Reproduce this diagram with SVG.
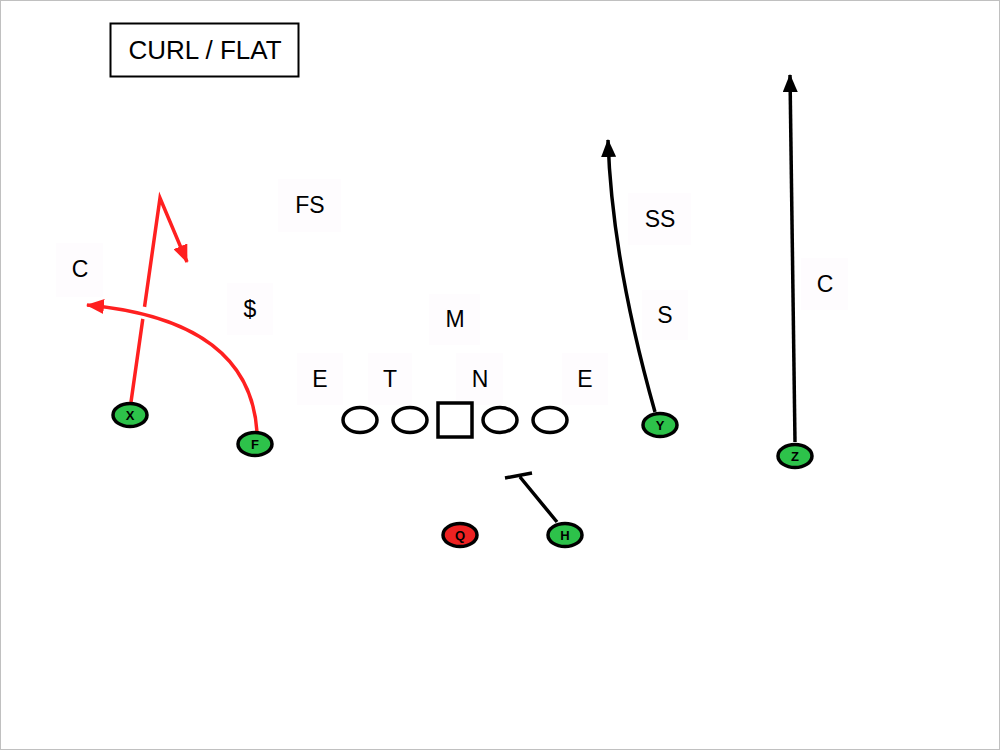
<svg xmlns="http://www.w3.org/2000/svg" width="1000" height="750" viewBox="0 0 1000 750">
<defs>
<marker id="ah-red" markerWidth="18" markerHeight="15" refX="17" refY="7.5" orient="auto" markerUnits="userSpaceOnUse"><path d="M0,0 L18,7.5 L0,15 z" fill="#ff2020"/></marker>
<marker id="ah-blk" markerWidth="18" markerHeight="15" refX="17" refY="7.5" orient="auto" markerUnits="userSpaceOnUse"><path d="M0,0 L18,7.5 L0,15 z" fill="#000"/></marker>
</defs>
<style>
.lbl{font-family:"Liberation Sans",Arial,sans-serif;font-size:23px;fill:#000;text-anchor:middle;dominant-baseline:central}
.lblbg{fill:#fefcfe}
.pl{stroke:#000;stroke-width:3.5;fill:#2dc24a}
.pt{font-family:"Liberation Sans",Arial,sans-serif;font-size:13px;font-weight:bold;fill:#000;text-anchor:middle;dominant-baseline:central}
.ol{fill:#fff;stroke:#000;stroke-width:3.5}
.red{fill:none;stroke:#ff2020;stroke-width:3.5}
.blk{fill:none;stroke:#000;stroke-width:3.5}
</style>
<rect x="0.5" y="0.5" width="999" height="749" fill="#fff" stroke="#c0c0c0" stroke-width="1"/>
<g id="title">
<rect x="110.5" y="23.5" width="188" height="53" fill="#fff" stroke="#000" stroke-width="2"/>
<text x="205" y="50" class="lbl" style="font-size:26px">CURL / FLAT</text>
</g>
<g id="defense">
<g id="d-c-left"><rect class="lblbg" x="56" y="243" width="47" height="54"/><text class="lbl" x="80" y="269">C</text></g>
<g id="d-fs"><rect class="lblbg" x="278" y="179" width="63" height="53"/><text class="lbl" x="310" y="205">FS</text></g>
<g id="d-dollar"><rect class="lblbg" x="227" y="283" width="46" height="52"/><text class="lbl" x="250" y="309">$</text></g>
<g id="d-m"><rect class="lblbg" x="429" y="294" width="51" height="51"/><text class="lbl" x="455" y="319">M</text></g>
<g id="d-e-left"><rect class="lblbg" x="297" y="353" width="46" height="52"/><text class="lbl" x="320" y="379">E</text></g>
<g id="d-t"><rect class="lblbg" x="368" y="353" width="44" height="52"/><text class="lbl" x="390" y="379">T</text></g>
<g id="d-n"><rect class="lblbg" x="456" y="353" width="47" height="52"/><text class="lbl" x="480" y="379">N</text></g>
<g id="d-e-right"><rect class="lblbg" x="562" y="353" width="46" height="52"/><text class="lbl" x="585" y="379">E</text></g>
<g id="d-ss"><rect class="lblbg" x="628" y="193" width="63" height="52"/><text class="lbl" x="660" y="219">SS</text></g>
<g id="d-s"><rect class="lblbg" x="642" y="290" width="46" height="50"/><text class="lbl" x="665" y="315">S</text></g>
<g id="d-c-right"><rect class="lblbg" x="801" y="258" width="47" height="52"/><text class="lbl" x="825" y="284">C</text></g>
</g>
<g id="connectors">
<path id="route-x" class="red" d="M131,402 L160,198 L187,262" marker-end="url(#ah-red)"/>
<path id="route-f-halo" d="M257,432 Q250,320 100,306" fill="none" stroke="#fff" stroke-width="12"/>
<path id="route-f" class="red" d="M257,432 Q250,320 87,305" marker-end="url(#ah-red)"/>
<path id="route-y" class="blk" d="M655,412 Q612,260 608,140" marker-end="url(#ah-blk)"/>
<path id="route-z" class="blk" d="M795,442 L790,75" marker-end="url(#ah-blk)"/>
<path id="block-h" class="blk" d="M557,522 L520,477 M505,478 L532,473"/>
</g>
<g id="line">
<ellipse id="ol-1" class="ol" cx="360" cy="420" rx="17" ry="12.5"/>
<ellipse id="ol-2" class="ol" cx="410" cy="420" rx="17" ry="12.5"/>
<rect id="center" class="ol" x="438" y="403" width="34" height="34"/>
<ellipse id="ol-3" class="ol" cx="500" cy="420" rx="17" ry="12.5"/>
<ellipse id="ol-4" class="ol" cx="550" cy="420" rx="17" ry="12.5"/>
</g>
<g id="p-x"><ellipse class="pl" cx="130" cy="415" rx="17" ry="11.5"/><text class="pt" x="130" y="415">X</text></g>
<g id="p-f"><ellipse class="pl" cx="255" cy="444" rx="17" ry="11.5"/><text class="pt" x="255" y="444">F</text></g>
<g id="p-q"><ellipse class="pl" style="fill:#ee2222" cx="460" cy="535" rx="17" ry="11.5"/><text class="pt" x="460" y="535">Q</text></g>
<g id="p-h"><ellipse class="pl" cx="565" cy="535" rx="17" ry="11.5"/><text class="pt" x="565" y="535">H</text></g>
<g id="p-y"><ellipse class="pl" cx="660" cy="425" rx="17" ry="11.5"/><text class="pt" x="660" y="425">Y</text></g>
<g id="p-z"><ellipse class="pl" cx="795" cy="456" rx="17" ry="11.5"/><text class="pt" x="795" y="456">Z</text></g>
</svg>
